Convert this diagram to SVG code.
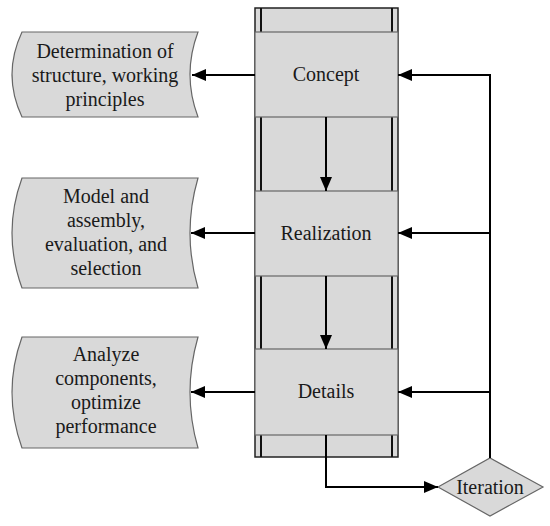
<svg xmlns="http://www.w3.org/2000/svg" width="550" height="526" viewBox="0 0 550 526">
<defs>
<style>
.t{font-family:'Liberation Serif','Times New Roman',serif;font-size:20px;fill:#1a1a1a;text-anchor:middle}
.box{fill:#d9d9d9;stroke:#666;stroke-width:1.2}
.doc{fill:#d9d9d9;stroke:#666;stroke-width:1.2}
.ln{fill:none;stroke:#000;stroke-width:2}
</style>
<marker id="ah" viewBox="0 0 14 12" refX="14" refY="6" markerWidth="14" markerHeight="12" markerUnits="userSpaceOnUse" orient="auto">
<path d="M0,0 L14,6 L0,12 Z" fill="#000"/>
</marker>
</defs>
<rect width="550" height="526" fill="#fff"/>
<g id="column">
<rect x="255" y="8" width="143" height="449" fill="#d9d9d9" stroke="#222" stroke-width="1.5"/>
<line x1="261" y1="8" x2="261" y2="457" stroke="#111" stroke-width="2"/>
<line x1="392" y1="8" x2="392" y2="457" stroke="#111" stroke-width="2"/>
</g>
<g id="concept">
<rect class="box" x="255" y="32" width="143" height="85"/>
<text class="t" x="326" y="81">Concept</text>
</g>
<g id="realization">
<rect class="box" x="255" y="191" width="143" height="85"/>
<text class="t" x="326" y="240">Realization</text>
</g>
<g id="details">
<rect class="box" x="255" y="349" width="143" height="86"/>
<text class="t" x="326" y="398">Details</text>
</g>
<g id="iteration">
<path class="box" d="M438,487 L490,458 L543,487 L490,516 Z"/>
<text class="t" x="490" y="494">Iteration</text>
</g>
<g id="doc1">
<path class="doc" d="M22,32 L198,32 Q182,74.5 198,117 L22,117 Q2,74.5 22,32 Z"/>
<text class="t" x="105" y="58">Determination of</text>
<text class="t" x="105" y="82">structure, working</text>
<text class="t" x="105" y="106">principles</text>
</g>
<g id="doc2">
<path class="doc" d="M22,178 L198,178 Q182,233 198,288 L22,288 Q2,233 22,178 Z"/>
<text class="t" x="106" y="203">Model and</text>
<text class="t" x="106" y="227">assembly,</text>
<text class="t" x="106" y="251">evaluation, and</text>
<text class="t" x="106" y="275">selection</text>
</g>
<g id="doc3">
<path class="doc" d="M22,337 L198,337 Q182,392.5 198,448 L22,448 Q2,392.5 22,337 Z"/>
<text class="t" x="106" y="361">Analyze</text>
<text class="t" x="106" y="385">components,</text>
<text class="t" x="106" y="409">optimize</text>
<text class="t" x="106" y="433">performance</text>
</g>
<g id="connectors">
<line class="ln" x1="255" y1="75" x2="192" y2="75" marker-end="url(#ah)"/>
<line class="ln" x1="255" y1="233" x2="191" y2="233" marker-end="url(#ah)"/>
<line class="ln" x1="255" y1="392" x2="191" y2="392" marker-end="url(#ah)"/>
<line class="ln" x1="326" y1="117" x2="326" y2="191" marker-end="url(#ah)"/>
<line class="ln" x1="326" y1="276" x2="326" y2="349" marker-end="url(#ah)"/>
<polyline class="ln" points="326,435 326,487 438,487" marker-end="url(#ah)"/>
<polyline class="ln" points="490,458 490,75 398,75" marker-end="url(#ah)"/>
<line class="ln" x1="490" y1="233" x2="398" y2="233" marker-end="url(#ah)"/>
<line class="ln" x1="490" y1="392" x2="398" y2="392" marker-end="url(#ah)"/>
</g>
</svg>
